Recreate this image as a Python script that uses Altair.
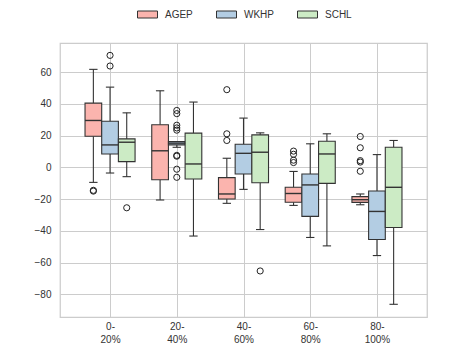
import altair as alt
import pandas as pd

categories = ["0-\n20%", "20-\n40%", "40-\n60%", "60-\n80%", "80-\n100%"]
series = ["AGEP", "WKHP", "SCHL"]
colors = ["#fbb4ae", "#b3cde3", "#ccebc5"]

# box statistics per category: lower whisker, q1, median, q3, upper whisker
agep_lo = [-9.5, -20.6, -22.7, -24.0, -23.6]
agep_q1 = [19.6, -7.8, -20.0, -22.0, -22.1]
agep_med = [29.5, 10.4, -16.8, -16.5, -20.4]
agep_q3 = [40.4, 26.8, -6.5, -12.6, -18.5]
agep_hi = [61.7, 48.2, 5.7, -2.6, -16.8]
agep_out = [[-14.5, -15.0], [], [48.9, 21.1, 16.9], [10.2, 8.2, 4.5, 3.0], [19.4, 12.3, 4.2, 3.3, -2.5]]

wkhp_lo = [-3.6, 12.6, -13.9, -44.2, -55.6]
wkhp_q1 = [8.4, 14.1, -4.2, -30.9, -45.5]
wkhp_med = [14.1, 15.2, 8.8, -11.1, -27.8]
wkhp_q3 = [29.0, 16.2, 14.5, -4.2, -14.9]
wkhp_hi = [50.5, 16.2, 31.0, 14.8, 8.0]
wkhp_out = [[70.5, 63.8], [35.8, 33.8, 26.5, 24.8, 23.4, 7.5, 7.0, -1.2, -6.3], [], [], []]

schl_lo = [-5.9, -43.3, -39.2, -49.5, -86.3]
schl_q1 = [3.6, -7.4, -9.7, -10.1, -37.9]
schl_med = [15.8, 2.1, 9.5, 8.4, -12.6]
schl_q3 = [17.9, 21.5, 20.4, 16.4, 12.6]
schl_hi = [34.3, 41.1, 21.7, 21.1, 16.9]
schl_out = [[-25.5], [], [-65.3], [], []]

y_ticks = [-80, -60, -40, -20, 0, 20, 40, 60]

stats = {
    "AGEP": (agep_lo, agep_q1, agep_med, agep_q3, agep_hi, agep_out),
    "WKHP": (wkhp_lo, wkhp_q1, wkhp_med, wkhp_q3, wkhp_hi, wkhp_out),
    "SCHL": (schl_lo, schl_q1, schl_med, schl_q3, schl_hi, schl_out),
}
offsets = {"AGEP": -0.25, "WKHP": 0.0, "SCHL": 0.25}
box_w = 0.25

rows, out_rows = [], []
for s in series:
    lo, q1, md, q3, hi, outs = stats[s]
    for i, c in enumerate(categories):
        ctr = i + offsets[s]
        rows.append(dict(series=s, cat=c, ctr=ctr, left=ctr - box_w / 2, right=ctr + box_w / 2,
                         capl=ctr - box_w / 4, capr=ctr + box_w / 4,
                         lo=lo[i], q1=q1[i], med=md[i], q3=q3[i], hi=hi[i]))
        for v in outs[i]:
            out_rows.append(dict(series=s, ctr=ctr, v=v))
df = pd.DataFrame(rows)
odf = pd.DataFrame(out_rows)

xscale = alt.Scale(domain=[-0.75, 4.75], nice=False, zero=False)
yscale = alt.Scale(domain=[-94.3, 78.3], nice=False, zero=False)

label_arr = "[" + ",".join(
    "[" + ",".join("'" + p + "'" for p in c.split("\n")) + "]" for c in categories
) + "][datum.value]"

xaxis = alt.Axis(values=list(range(len(categories))), labelExpr=label_arr, title=None,
                 grid=True, labelPadding=4, labelLineHeight=13, labelBaseline="top")
yaxis = alt.Axis(values=y_ticks, format="d", title=None, grid=True, labelPadding=9,
                 labelOverlap=False)


def X(field):
    return alt.X(field, scale=xscale, axis=xaxis)


def Y(field):
    return alt.Y(field, scale=yscale, axis=yaxis)


edge = "#333333"
base = alt.Chart(df)

whisk_hi = base.mark_rule(color=edge, strokeWidth=1.1).encode(
    x=X("ctr:Q"), y=Y("q3:Q"), y2="hi:Q"
)
whisk_lo = base.mark_rule(color=edge, strokeWidth=1.1).encode(
    x=X("ctr:Q"), y=Y("lo:Q"), y2="q1:Q"
)
cap_hi = base.mark_rule(color=edge, strokeWidth=1.1).encode(
    x=X("capl:Q"), x2="capr:Q", y=Y("hi:Q")
)
cap_lo = base.mark_rule(color=edge, strokeWidth=1.1).encode(
    x=X("capl:Q"), x2="capr:Q", y=Y("lo:Q")
)
boxes = base.mark_rect(stroke=edge, strokeWidth=1.1).encode(
    x=X("left:Q"), x2="right:Q",
    y=Y("q1:Q"), y2="q3:Q",
    color=alt.Color("series:N", scale=alt.Scale(domain=series, range=colors),
                    legend=alt.Legend(title=None, orient="none", direction="horizontal",
                                      columns=3, legendX=77, legendY=-39,
                                      symbolType="M-1,-0.35L1,-0.35L1,0.35L-1,0.35Z",
                                      symbolSize=400, symbolStrokeColor=edge,
                                      symbolStrokeWidth=1, symbolOpacity=1,
                                      labelFontSize=10, labelOffset=7,
                                      columnPadding=21, labelColor="#333333",
                                      labelFont="Liberation Sans")),
)
medians = base.mark_rule(color=edge, strokeWidth=1.4).encode(
    x=X("left:Q"), x2="right:Q", y=Y("med:Q")
)
outliers = alt.Chart(odf).mark_point(shape="circle", filled=False, color="#222222",
                                     size=38, strokeWidth=1, opacity=1).encode(
    x=X("ctr:Q"), y=Y("v:Q")
)

chart = alt.layer(whisk_hi, whisk_lo, cap_hi, cap_lo, boxes, medians, outliers).properties(
    width=367, height=274,
    autosize=alt.AutoSizeParams(type="none"),
    padding={"left": 60, "top": 43, "right": 47, "bottom": 38},
    background="white",
).configure_view(
    stroke="#cccccc", strokeWidth=1.25
).configure_axis(
    gridColor="#cccccc", gridWidth=1, domain=False, ticks=False,
    labelFont="Liberation Sans", labelFontSize=10, labelColor="#333333",
)

chart.save("out.html", embed_options={"renderer": "svg", "actions": False})
